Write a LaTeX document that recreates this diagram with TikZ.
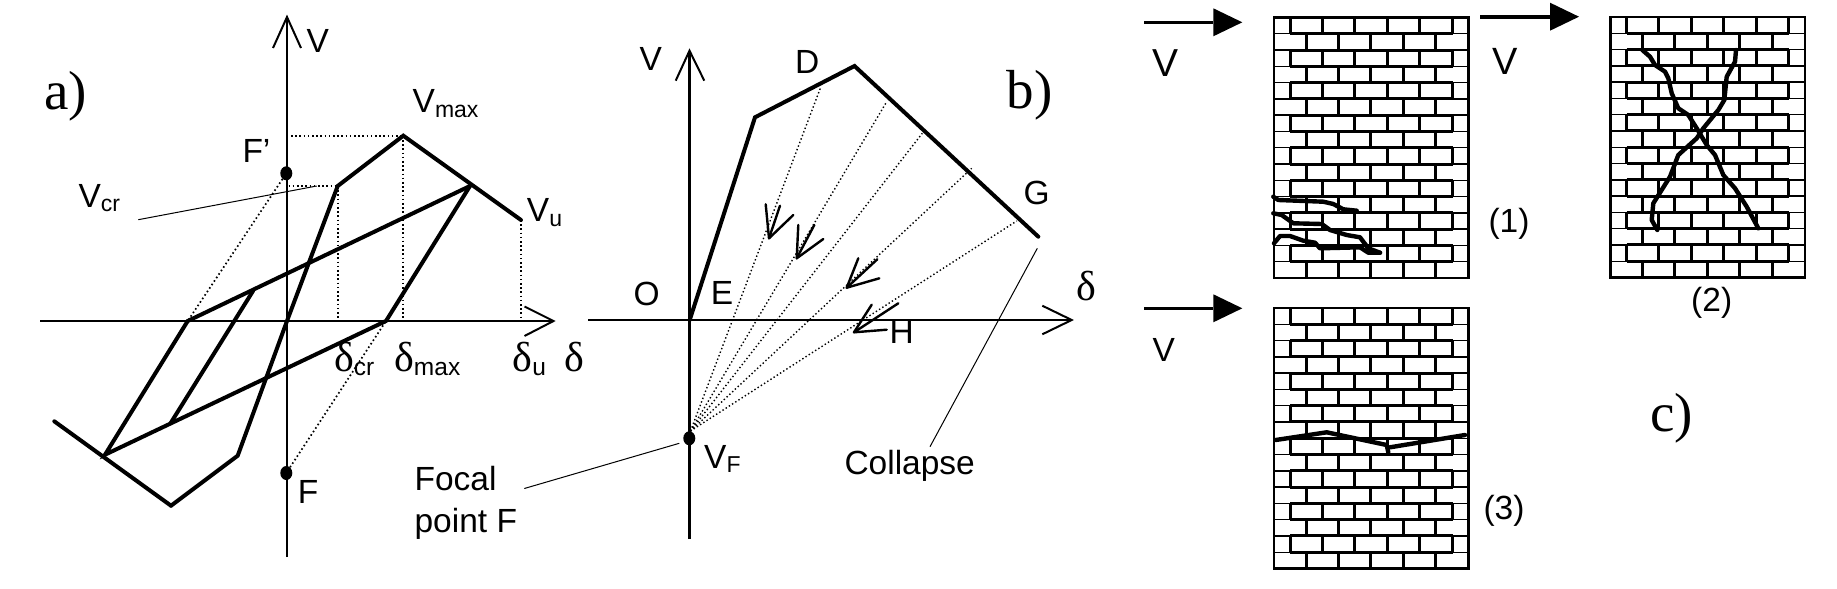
\documentclass[tikz,border=0pt]{standalone}
\usepackage{fontspec}
\setmainfont{Liberation Sans}
\newfontfamily\serifpart{Liberation Serif}
\usetikzlibrary{positioning,shapes.geometric}

\newcommand{\fsz}[1]{\fontsize{#1}{#1}\selectfont}
\newcommand{\lowsub}[2]{#1\raisebox{-4.5pt}{\fsz{23}#2}}
\newcommand{\dlt}{{\serifpart\fsz{42}δ}}
\newcommand{\dltsub}[1]{\dlt\raisebox{-4pt}{\fsz{24.5}#1}}

\begin{document}
\begin{tikzpicture}[x=1pt,y=-1pt]
\tikzset{curve/.style={line width=4pt,line join=miter,line cap=round}}
\tikzset{axis/.style={line width=2pt}}
\tikzset{dots/.style={line width=1.7pt,dash pattern=on 1.6pt off 2.6pt}}
\tikzset{leader/.style={line width=1pt}}
\tikzset{dot/.style={ellipse,fill=black,minimum width=12pt,minimum height=14pt,inner sep=0pt}}
\tikzset{lab/.style={anchor=base west,inner sep=0pt,font=\fsz{33.5}}}
\tikzset{bigpart/.style={anchor=base west,inner sep=0pt,font=\serifpart\fsz{55}}}
\tikzset{crack/.style={line width=4.4pt,line join=round,line cap=round}}
\tikzset{push/.style={line width=3.6pt}}
\tikzset{barb/.style={line width=2.4pt,line cap=round,line join=round}}
\tikzset{wall/.pic={
  \foreach \r in {1,...,15} {
    \draw[line width=1.4pt] (0,16.28*\r) -- (194.3,16.28*\r);
    \draw[line width=3pt] (16,16.28*\r) -- (178.6,16.28*\r);
  }
  \foreach \r in {0,2,...,14}
    \foreach \k in {0,...,5}
      \draw[line width=3pt] (16+32.4*\k,16.28*\r) -- (16+32.4*\k,16.28*\r+16.28);
  \foreach \r in {1,3,...,15}
    \foreach \k in {0,...,4}
      \draw[line width=3pt] (32+32.4*\k,16.28*\r) -- (32+32.4*\k,16.28*\r+16.28);
  \draw[line width=2.4pt] (0,0) rectangle (194.3,260.5);
}}
\useasboundingbox (0,0) rectangle (1837,589);

% a) hysteresis loops
\coordinate (ab) at (287,557);
\coordinate (at) at (287,17);
\coordinate (al) at (273,48);
\coordinate (ar) at (301,48);
\coordinate (hl) at (40,321);
\coordinate (ht) at (553.5,321);
\coordinate (hu) at (524.5,306.5);
\coordinate (hd) at (524.5,336);
\coordinate (o1) at (287,321);
\coordinate (cr1) at (337.7,186);
\coordinate (mx1) at (403.3,135.7);
\coordinate (j1) at (470,186);
\coordinate (u1) at (521,220);
\coordinate (a1) at (187.7,321);
\coordinate (b1) at (253,291);
\coordinate (c1) at (386,321);
\coordinate (p1) at (105,454.7);
\coordinate (q1) at (170.7,423);
\coordinate (l1) at (54.3,421.3);
\coordinate (m1) at (171,505.7);
\coordinate (n1) at (237.7,455.7);
\coordinate (ymx) at (291,135.7);
\coordinate (ycr) at (288.5,186);
\coordinate (xcr) at (337.7,321);
\coordinate (xmx) at (403.3,321);
\coordinate (xu) at (521,321);
\coordinate (lcr) at (138.3,219.7);
\coordinate (rcr) at (316.7,186);

\node[dot] (fp) at (286.3,173.3) {};
\node[dot] (f) at (286.3,473) {};

\draw[axis] (ab) -- (at);
\draw[axis] (al) -- (at) -- (ar);
\draw[axis] (hl) -- (ht);
\draw[axis] (hu) -- (ht) -- (hd);
\draw[dots] (ymx) -- (mx1);
\draw[dots] (ycr) -- (cr1);
\draw[dots] (cr1) -- (xcr);
\draw[dots] (mx1) -- (xmx);
\draw[dots] (u1) -- (xu);
\draw[dots] (fp) -- (a1);
\draw[dots] (f) -- (c1);
\draw[leader] (lcr) -- (rcr);
\draw[curve] (m1) -- (n1) -- (o1) -- (cr1) -- (mx1) -- (u1);
\draw[curve] (l1) -- (m1);
\draw[curve] (a1) -- (j1);
\draw[curve] (j1) -- (c1) -- (p1) -- (a1);
\draw[curve] (b1) -- (q1);

\node[bigpart] (la) at (44,109) {a)};
\node[lab] (lv1) at (306.5,52.5) {V};
\node[lab] (lfp) at (242.3,162.7) {F’};
\node[lab] (lf) at (297.7,503.8) {F};
\node[lab] (lvcr) at (78.3,207.3) {\lowsub{V}{cr}};
\node[lab] (lvmx) at (412.5,112.7) {\lowsub{V}{max}};
\node[lab] (lvu) at (526.7,221.7) {\lowsub{V}{u}};
\node[lab] (ldcr) at (334,371.7) {\dltsub{cr}};
\node[lab] (ldmx) at (394,371.7) {\dltsub{max}};
\node[lab] (ldu) at (512.3,371.7) {\dltsub{u}};
\node[lab] (ld1) at (564,371.7) {\dlt};
\node[lab] (lfoc) at (414.4,490.6) {Focal};
\node[lab] (lpt) at (414.4,532) {point F};

% b) focal point
\coordinate (vb) at (689.5,539);
\coordinate (vt) at (689.5,50.7);
\coordinate (vl) at (675.7,80.7);
\coordinate (vr) at (704.3,80.7);
\coordinate (xl) at (588.3,320);
\coordinate (xt) at (1071.7,320);
\coordinate (xu2) at (1042.3,305.7);
\coordinate (xd2) at (1042.3,334.3);
\coordinate (o2) at (689.7,320);
\coordinate (e2) at (755,117.3);
\coordinate (d2) at (854.5,66);
\coordinate (g2) at (1038.3,236.7);
\coordinate (t1) at (820.7,87.3);
\coordinate (t2) at (886.7,101.7);
\coordinate (t3) at (922.3,133.3);
\coordinate (t4) at (971.7,168.3);
\coordinate (t5) at (1016.7,221);
\coordinate (s1) at (769,238.3);
\coordinate (s1a) at (765.7,204.3);
\coordinate (s1b) at (793.3,215);
\coordinate (s1c) at (780,205.7);
\coordinate (s2) at (796.7,258.3);
\coordinate (s2a) at (798.3,225);
\coordinate (s2b) at (823.3,239);
\coordinate (s2c) at (814.3,225);
\coordinate (s3) at (846.7,287.7);
\coordinate (s3a) at (858.3,258.3);
\coordinate (s3b) at (879.3,278.3);
\coordinate (s3c) at (877.3,259.3);
\coordinate (s4) at (854,332.3);
\coordinate (s4a) at (871.7,304.7);
\coordinate (s4b) at (886.7,329.7);
\coordinate (s4c) at (898.3,303.3);
\coordinate (foc) at (690.5,431);
\coordinate (foc1) at (524.3,488.5);
\coordinate (foc2) at (679.3,443.3);
\coordinate (col1) at (930,446.7);
\coordinate (col2) at (1037.3,248.3);

\draw[line width=3pt] (vb) -- (vt);
\draw[axis] (vl) -- (vt) -- (vr);
\draw[axis] (xl) -- (xt);
\draw[axis] (xu2) -- (xt) -- (xd2);
\foreach \t in {t1,t2,t3,t4,t5}
  \draw[line width=1.4pt,dash pattern=on 1.4pt off 2.4pt] (foc) -- (\t);
\draw[curve] (o2) -- (e2) -- (d2) -- (g2);
\foreach \s in {s1,s2,s3,s4} {
  \draw[barb] (\s a) -- (\s) -- (\s b);
  \draw[barb] (\s) -- (\s c);
}
\node[dot] (vf) at (689.3,438.3) {};
\draw[leader] (foc1) -- (foc2);
\draw[leader] (col1) -- (col2);

\node[bigpart] (lb) at (1006.7,108.3) {b)};
\node[lab] (lv2) at (639.3,70) {V};
\node[lab] (ld2) at (795,73.3) {D};
\node[lab] (lo) at (633.3,305) {O};
\node[lab] (le) at (710.7,304) {E};
\node[lab] (lg) at (1023.3,204) {G};
\node[lab] (lh) at (889.3,343.3) {H};
\node[lab] (ldx) at (1076,300.7) {\dlt};
\node[lab] (lvf) at (704,468) {\lowsub{V}{F}};
\node[lab] (lcol) at (844.3,474.7) {Collapse};

% c) brick walls
\pic at (1274,17.5) {wall};
\pic at (1610.5,17) {wall};
\pic at (1274,308) {wall};

\draw[crack] (1273.3,196.7) -- (1278.3,200) -- (1323.3,201.7) -- (1333.3,204) -- (1343.3,209.3) -- (1356.7,210.7);
\draw[crack] (1273.3,213.3) -- (1281.7,215) -- (1293.3,223.3) -- (1321.7,224) -- (1330,230) -- (1346.7,235) -- (1360,237.3) -- (1368.3,248.3) -- (1380,252.7);
\draw[crack] (1274,243.3) -- (1280,236) -- (1290,236) -- (1303.3,240.7) -- (1315,242.7) -- (1320,248.3) -- (1360,247.3) -- (1368.3,252.7) -- (1380,252.7);
\draw[crack] (1642.3,50) -- (1650,56.7) -- (1655,65) -- (1665,71.7) -- (1668.3,78.3) -- (1671.7,93.3) -- (1678.3,108.3) -- (1688.3,115) -- (1696.7,128.3) -- (1706.7,145) -- (1715,155) -- (1723.3,175) -- (1735,188.3) -- (1746.7,206.7) -- (1758.3,228.3);
\draw[crack] (1736,50) -- (1735,61.7) -- (1726.7,76.7) -- (1724.3,100) -- (1718.3,110) -- (1703.3,128.3) -- (1696.7,138.3) -- (1678.3,155) -- (1670,176.7) -- (1653.3,203.3) -- (1651.7,220) -- (1657.3,230);
\draw[crack] (1275.7,440) -- (1326.7,432.3) -- (1386.7,445) -- (1388.3,452.3);
\draw[crack] (1390,447.3) -- (1465,435);

\coordinate (w1) at (1144,22.3);
\coordinate (w1b) at (1213.3,22.3);
\coordinate (w2) at (1480,16.7);
\coordinate (w2b) at (1550,16.7);
\coordinate (w3) at (1144,308.3);
\coordinate (w3b) at (1213.3,308.3);
\foreach \w in {w1,w2,w3} {
  \draw[push] (\w) -- (\w b);
  \fill (\w b) ++(0,-14) -- ++(29,14) -- ++(-29,14) -- cycle;
}

\node[lab,font=\fsz{39}] (lv3) at (1152.3,76.7) {V};
\node[lab,font=\fsz{38}] (lv4) at (1492.3,74) {V};
\node[lab] (lv5) at (1152.3,361.3) {V};
\node[lab] (lnum1) at (1488.3,232.3) {(1)};
\node[lab] (lnum2) at (1691,311.7) {(2)};
\node[lab] (lnum3) at (1483.3,519.7) {(3)};
\node[bigpart] (lc) at (1650,431.7) {c)};
\end{tikzpicture}
\end{document}
